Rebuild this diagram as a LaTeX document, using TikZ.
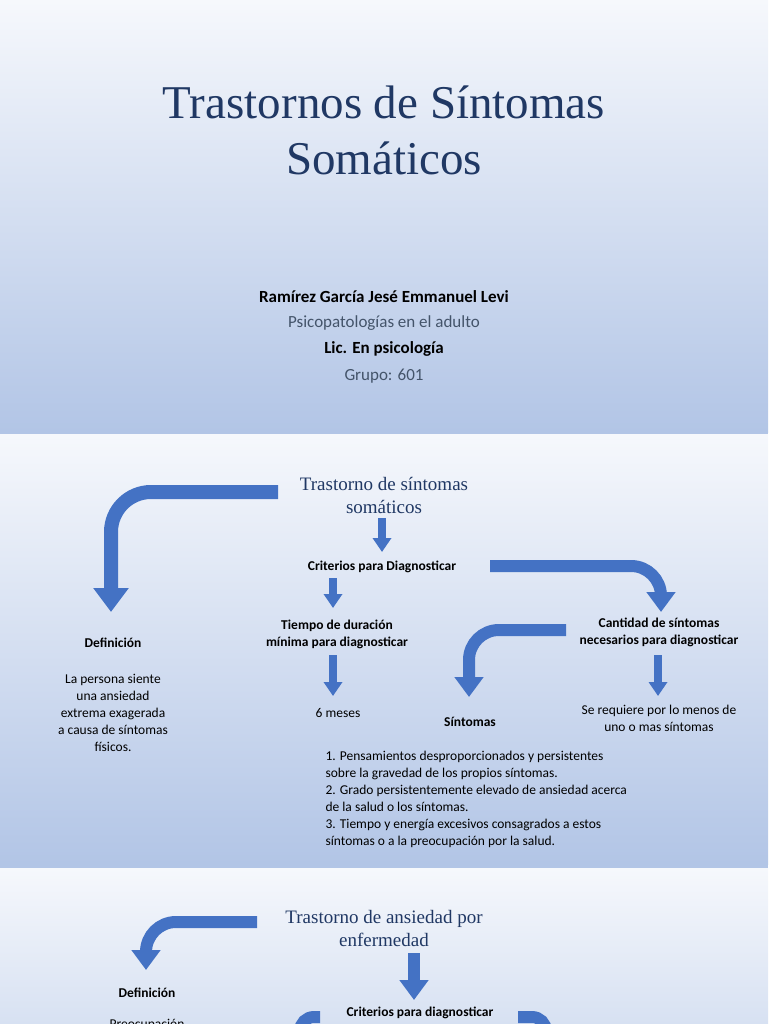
\documentclass[tikz,border=0pt]{standalone}
\usepackage{fontspec}
\setmainfont{Carlito}
\newfontfamily\serifx{Liberation Serif}
\usetikzlibrary{arrows.meta}
\definecolor{navy}{HTML}{203864}
\definecolor{arr}{HTML}{4472C4}
\definecolor{sub}{HTML}{44546A}
\definecolor{bgtop}{HTML}{F6F8FC}
\definecolor{bgbot}{HTML}{B2C5E6}
\tikzset{
 big/.style={line width=14pt,arr,rounded corners=40pt,-{Triangle[width=34pt,length=24pt]}},
 mid/.style={line width=12pt,arr,rounded corners=30pt,-{Triangle[width=28pt,length=20pt]}},
 small/.style={line width=8pt,arr,-{Triangle[width=18pt,length=14pt]}},
 txt/.style={align=center,font=\fontsize{13.5}{17}\selectfont},
 bold/.style={txt,font=\fontsize{13.5}{17}\selectfont\bfseries},
 head/.style={align=center,text=navy,font=\serifx\fontsize{19}{23}\selectfont}
}
\begin{document}
\begin{tikzpicture}[x=1pt,y=-1pt]
\useasboundingbox (0,0) rectangle (768,1024);
\fill[bgbot] (0,0) rectangle (768,1024);
\shade[top color=bgtop,bottom color=bgbot] (0,0) rectangle (768,432);
\shade[top color=bgtop,bottom color=bgbot] (0,434) rectangle (768,864);
\shade[top color=bgtop,bottom color={rgb,255:red,215;green,225;blue,242}] (0,868) rectangle (768,1024);
% slide 1
\node[head,font=\serifx\fontsize{47}{56}\selectfont] (title) at (384,130) {Trastornos de Síntomas\\Somáticos};
\node[bold,font=\fontsize{17}{19}\selectfont\bfseries] (auth) at (384,297) {Ramírez García Jesé Emmanuel Levi};
\node[txt,text=sub,font=\fontsize{17}{19}\selectfont] (mat) at (384,323) {Psicopatologías en el adulto};
\node[bold,font=\fontsize{17}{19}\selectfont\bfseries] (lic) at (384,349) {Lic. En psicología};
\node[txt,text=sub,font=\fontsize{17}{19}\selectfont] (grp) at (384,376) {Grupo: 601};
% slide 2
\node[head] (t2) at (384,495) {Trastorno de síntomas\\somáticos};
\node[bold] (crit) at (382,567) {Criterios para Diagnosticar};
\node[bold] (def) at (113,643) {Definición};
\node[txt] (defx) at (113,713) {La persona siente\\una ansiedad\\extrema exagerada\\a causa de síntomas\\físicos.};
\node[bold] (tiem) at (337,634) {Tiempo de duración\\mínima para diagnosticar};
\node[bold] (cant) at (659,632) {Cantidad de síntomas\\necesarios para diagnosticar};
\node[txt] (meses) at (338,713) {6 meses};
\node[bold] (sint) at (470,722) {Síntomas};
\node[txt] (req) at (659,718) {Se requiere por lo menos de\\uno o mas síntomas};
\node[txt,align=left,anchor=north west] (list) at (322,748) {1. Pensamientos desproporcionados y persistentes\\sobre la gravedad de los propios síntomas.\\2. Grado persistentemente elevado de ansiedad acerca\\de la salud o los síntomas.\\3. Tiempo y energía excesivos consagrados a estos\\síntomas o a la preocupación por la salud.};
\coordinate (a1) at (278,492);
\draw[big] (a1) -| (111,612);
\draw[small] (382,518) -- (382,552);
\draw[small] (333,578) -- (333,608);
\draw[mid] (490,566) -| (661,612);
\draw[small] (333,655) -- (333,696);
\draw[small] (658,655) -- (658,696);
\draw[mid] (566,630) -| (469,697);
% slide 3
\node[head] (t3) at (384,928) {Trastorno de ansiedad por\\enfermedad};
\node[bold] (def3) at (147,993) {Definición};
\node[txt,anchor=north] (pre) at (147,1016) {Preocupación};
\node[bold] (crit3) at (420,1013) {Criterios para diagnosticar};
\draw[mid] (257,922) -| (146,970);
\draw[line width=12pt,arr,-{Triangle[width=28pt,length=20pt]}] (414,953) -- (414,1000);
\draw[line width=12pt,arr,rounded corners=14pt] (320,1017) -| (300,1040);
\draw[line width=12pt,arr,rounded corners=14pt] (518,1017) -| (546,1040);
\end{tikzpicture}
\end{document}
